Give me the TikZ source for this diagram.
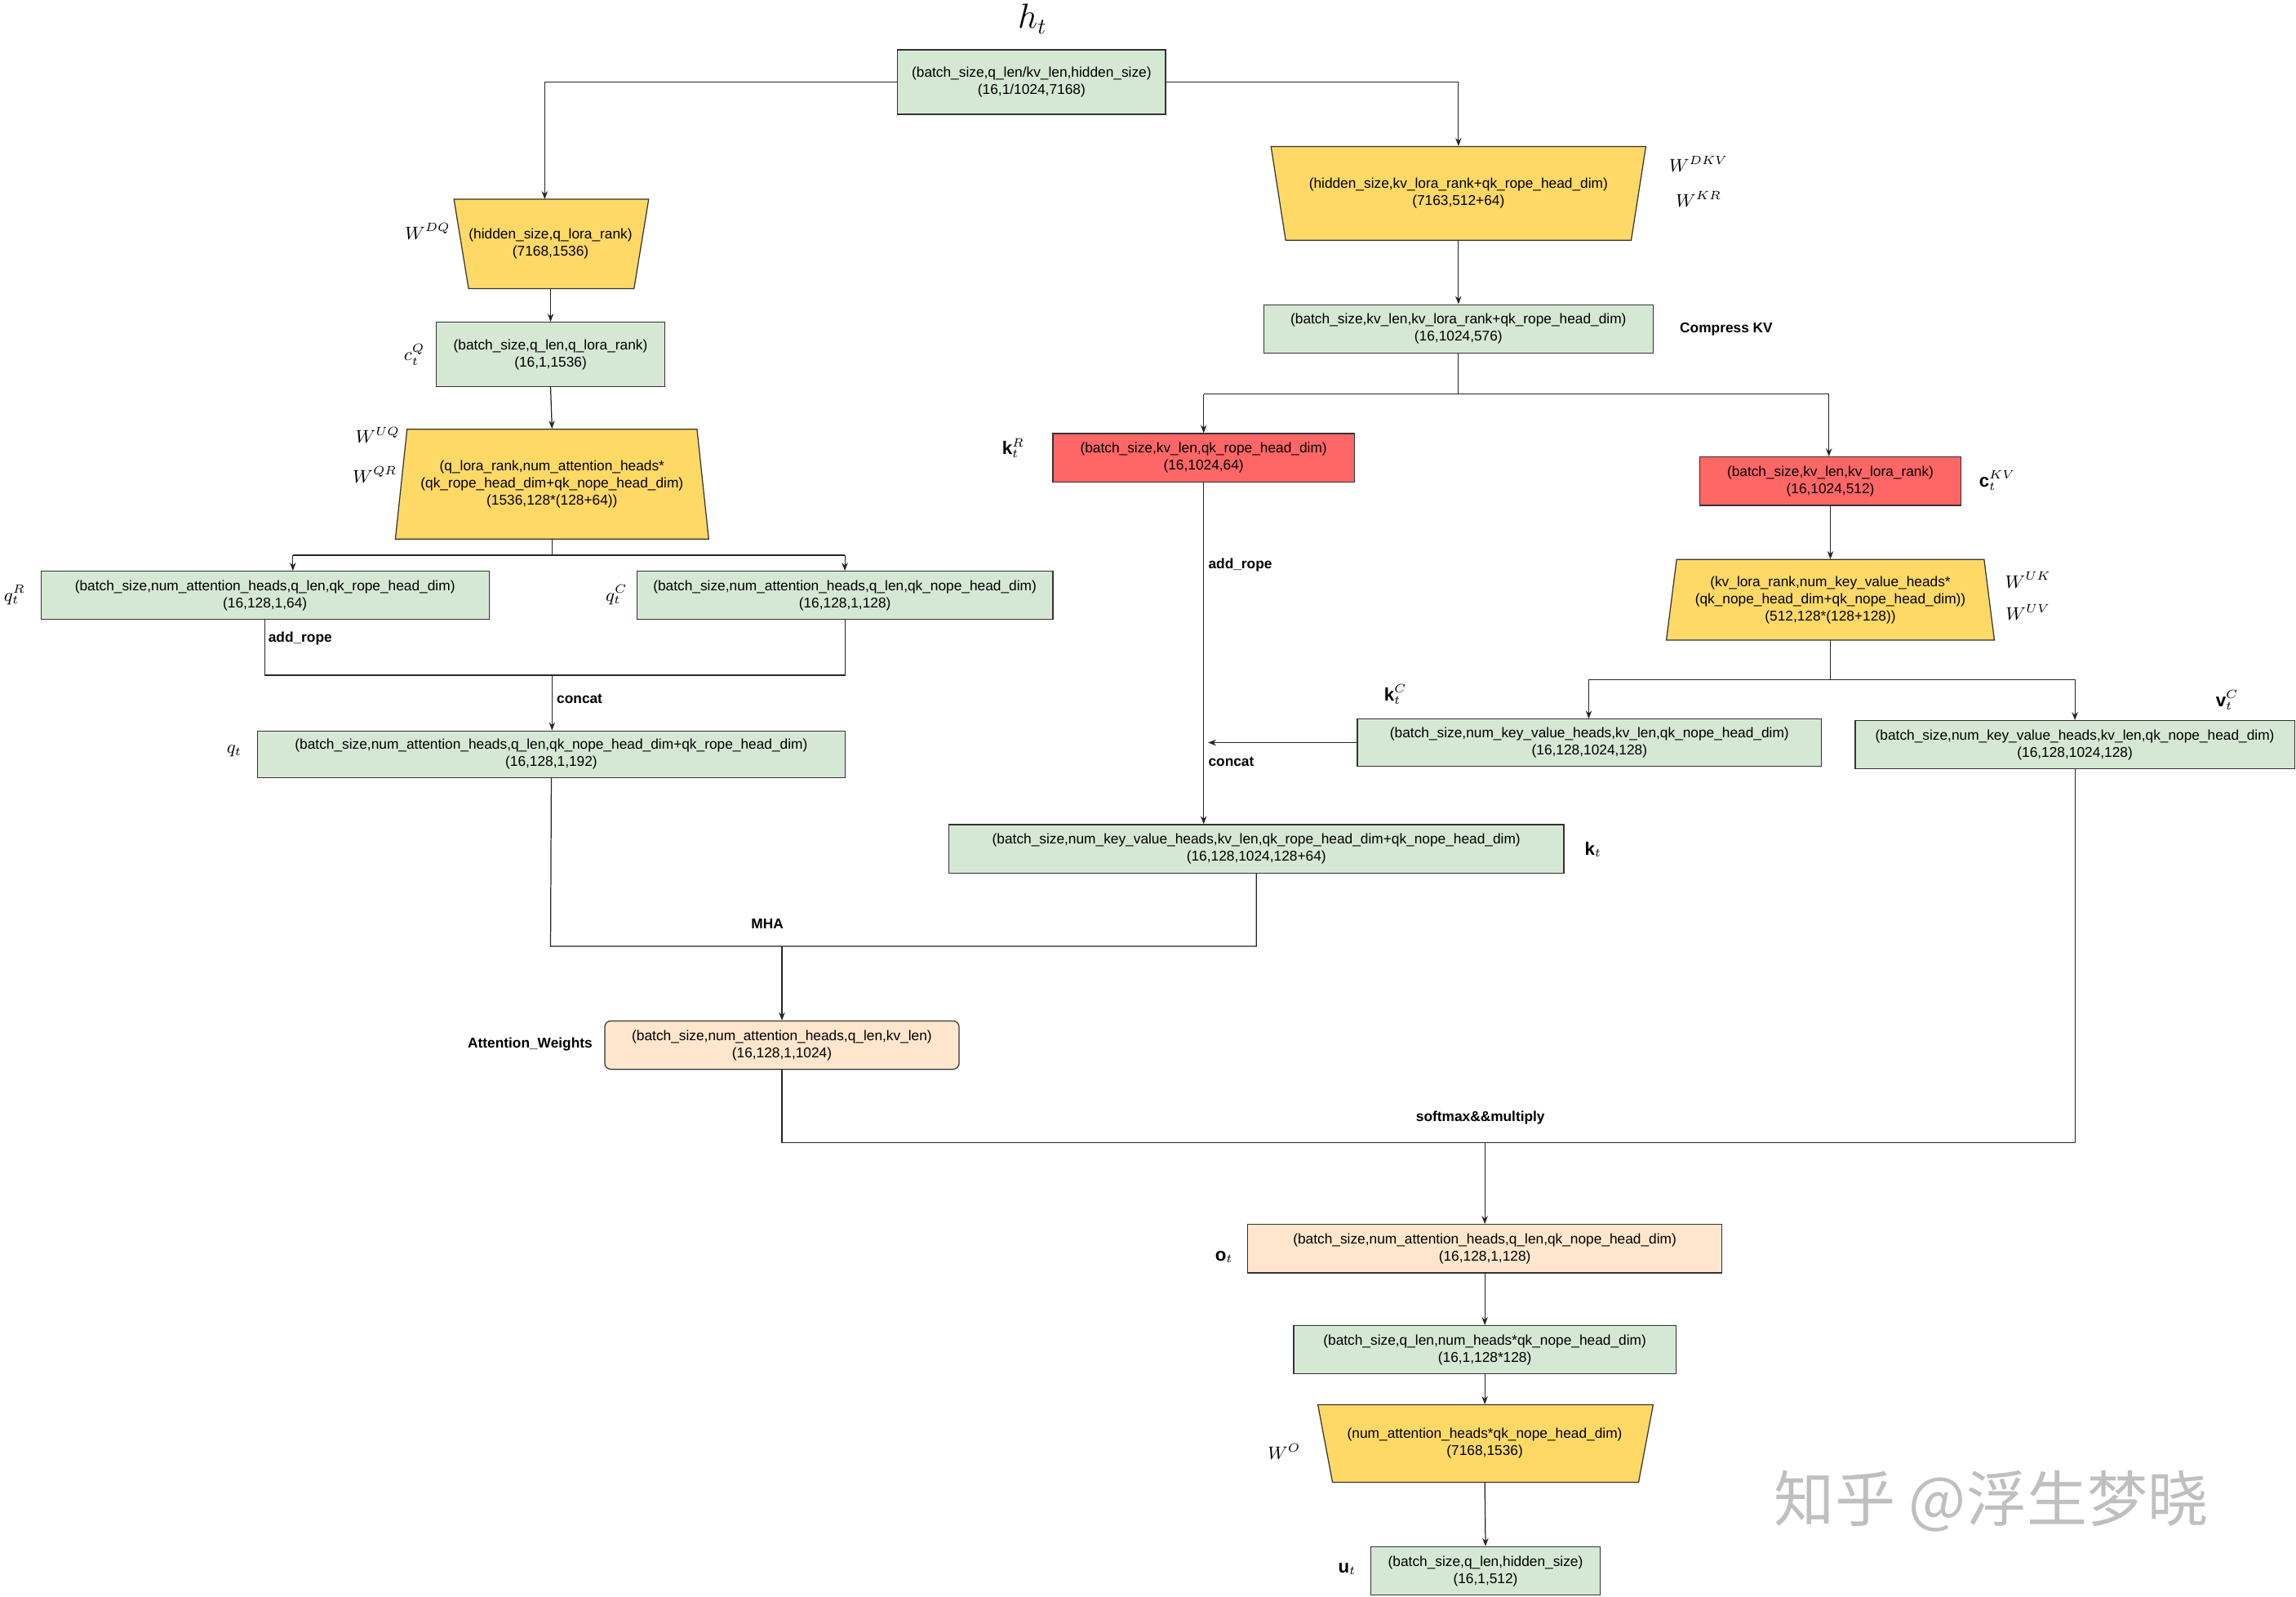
\documentclass[tikz,border=0pt]{standalone}
\usepackage{fontspec}
\setmainfont{Liberation Sans}
\newfontfamily\cjk{Noto Sans CJK SC}
\usetikzlibrary{arrows.meta}
\definecolor{gfill}{HTML}{D5E8D4}
\definecolor{yfill}{HTML}{FFD966}
\definecolor{rfill}{HTML}{FF6666}
\definecolor{pfill}{HTML}{FFE6CC}
\begin{document}
\begin{tikzpicture}[x=0.0255cm,y=-0.0255cm,
  every node/.style={font=\fontsize{7}{8.5}\selectfont,align=center,inner sep=0pt},
  gbox/.style={draw=black!80,fill=gfill,line width=0.5pt},
  rbox/.style={draw=black!80,fill=rfill,line width=0.5pt},
  pbox/.style={draw=black!80,fill=pfill,line width=0.5pt},
  trap/.style={draw=black!80,fill=yfill,line width=0.5pt},
  ln/.style={line width=0.5pt,black!85},
  arr/.style={ln,-{Stealth[length=4pt,width=3pt]}},
  lab/.style={font=\fontsize{7}{8.5}\selectfont\bfseries},
  ml/.style={font=\fontsize{9}{10}\selectfont}]
\fill[white] (0,0) rectangle (1568,1090);
\useasboundingbox (0,0) rectangle (1568,1090);
\node[gbox,minimum width=183*0.0255cm,minimum height=44*0.0255cm] (ht) at (704.5,56) {(batch\_size,q\_len/kv\_len,hidden\_size)\\(16,1/1024,7168)};
\node[font=\fontsize{16}{18}\selectfont] (htl) at (705,13) {$h_t$};
\draw[trap] (868,100)--(1124,100)--(1114,164)--(878,164)--cycle;
\node[minimum width=240*0.0255cm,minimum height=64*0.0255cm] (wdkv) at (996,132) {(hidden\_size,kv\_lora\_rank+qk\_rope\_head\_dim)\\(7163,512+64)};
\draw[trap] (310,136)--(443,136)--(433,197)--(320,197)--cycle;
\node[minimum width=110*0.0255cm,minimum height=61*0.0255cm] (wdq) at (376,166.5) {(hidden\_size,q\_lora\_rank)\\(7168,1536)};
\node[gbox,minimum width=156*0.0255cm,minimum height=44*0.0255cm] (cq) at (376,242) {(batch\_size,q\_len,q\_lora\_rank)\\(16,1,1536)};
\draw[trap] (278,293)--(476,293)--(484,368)--(270,368)--cycle;
\node[minimum width=200*0.0255cm,minimum height=75*0.0255cm] (wuq) at (377,330.5) {(q\_lora\_rank,num\_attention\_heads*\\(qk\_rope\_head\_dim+qk\_nope\_head\_dim)\\(1536,128*(128+64))};
\node[gbox,minimum width=306*0.0255cm,minimum height=33*0.0255cm] (qr) at (181,406.5) {(batch\_size,num\_attention\_heads,q\_len,qk\_rope\_head\_dim)\\(16,128,1,64)};
\node[gbox,minimum width=284*0.0255cm,minimum height=33*0.0255cm] (qc) at (577,406.5) {(batch\_size,num\_attention\_heads,q\_len,qk\_nope\_head\_dim)\\(16,128,1,128)};
\node[gbox,minimum width=401*0.0255cm,minimum height=32*0.0255cm] (qt) at (376.5,515) {(batch\_size,num\_attention\_heads,q\_len,qk\_nope\_head\_dim+qk\_rope\_head\_dim)\\(16,128,1,192)};
\node[gbox,minimum width=266*0.0255cm,minimum height=33*0.0255cm] (ckv0) at (996,224.5) {(batch\_size,kv\_len,kv\_lora\_rank+qk\_rope\_head\_dim)\\(16,1024,576)};
\node[rbox,minimum width=206*0.0255cm,minimum height=33*0.0255cm] (kr) at (822,312.5) {(batch\_size,kv\_len,qk\_rope\_head\_dim)\\(16,1024,64)};
\node[rbox,minimum width=178*0.0255cm,minimum height=33*0.0255cm] (ckv) at (1250,328.5) {(batch\_size,kv\_len,kv\_lora\_rank)\\(16,1024,512)};
\draw[trap] (1145,382)--(1355,382)--(1362,437)--(1138,437)--cycle;
\node[minimum width=210*0.0255cm,minimum height=55*0.0255cm] (wuk) at (1250,409.5) {(kv\_lora\_rank,num\_key\_value\_heads*\\(qk\_nope\_head\_dim+qk\_nope\_head\_dim))\\(512,128*(128+128))};
\node[gbox,minimum width=317*0.0255cm,minimum height=32*0.0255cm] (kc) at (1085.5,507) {(batch\_size,num\_key\_value\_heads,kv\_len,qk\_nope\_head\_dim)\\(16,128,1024,128)};
\node[gbox,minimum width=300*0.0255cm,minimum height=33*0.0255cm] (vc) at (1417,508.5) {(batch\_size,num\_key\_value\_heads,kv\_len,qk\_nope\_head\_dim)\\(16,128,1024,128)};
\node[gbox,minimum width=420*0.0255cm,minimum height=33*0.0255cm] (kt) at (858,579.5) {(batch\_size,num\_key\_value\_heads,kv\_len,qk\_rope\_head\_dim+qk\_nope\_head\_dim)\\(16,128,1024,128+64)};
\node[pbox,rounded corners=3pt,minimum width=242*0.0255cm,minimum height=33*0.0255cm] (aw) at (534,713.5) {(batch\_size,num\_attention\_heads,q\_len,kv\_len)\\(16,128,1,1024)};
\node[pbox,minimum width=324*0.0255cm,minimum height=33*0.0255cm] (ot) at (1014,852.5) {(batch\_size,num\_attention\_heads,q\_len,qk\_nope\_head\_dim)\\(16,128,1,128)};
\node[gbox,minimum width=261*0.0255cm,minimum height=33*0.0255cm] (om) at (1014,921.5) {(batch\_size,q\_len,num\_heads*qk\_nope\_head\_dim)\\(16,1,128*128)};
\draw[trap] (900,959)--(1129,959)--(1119,1012)--(910,1012)--cycle;
\node[minimum width=210*0.0255cm,minimum height=53*0.0255cm] (wo) at (1014,985.5) {(num\_attention\_heads*qk\_nope\_head\_dim)\\(7168,1536)};
\node[gbox,minimum width=157*0.0255cm,minimum height=33*0.0255cm] (ut) at (1014.5,1072.5) {(batch\_size,q\_len,hidden\_size)\\(16,1,512)};
\coordinate (j1) at (372,56);
\coordinate (j2) at (996,56);
\coordinate (q1) at (377,379);
\coordinate (q2) at (200,379);
\coordinate (q3) at (577,379);
\coordinate (c1) at (181,461);
\coordinate (c2) at (577,461);
\coordinate (c3) at (377,461);
\coordinate (k1) at (996,269);
\coordinate (k2) at (822,269);
\coordinate (k3) at (1249,269);
\coordinate (u1) at (1250,464);
\coordinate (u2) at (1085,464);
\coordinate (u3) at (1417,464);
\coordinate (cc) at (825,507);
\coordinate (m1) at (376,646);
\coordinate (m2) at (858,646);
\coordinate (m3) at (534,646);
\coordinate (s1) at (534,780);
\coordinate (s2) at (1417,780);
\coordinate (s3) at (1014,780);
\draw[arr] (ht.west) -- (j1) -- (372,136);
\draw[arr] (ht.east) -- (j2) -- (wdkv.north);
\draw[arr] (wdq.south) -- (cq.north);
\draw[arr] (cq.south) -- (wuq.north);
\draw[ln] (wuq.south) -- (q1);
\draw[ln] (q2) -- (q3);
\draw[arr] (q2) -- (qr.north -| q2);
\draw[arr] (q3) -- (qc.north);
\draw[ln] (qr.south) -- (c1) -- (c2) -- (qc.south);
\draw[arr] (c3) -- (qt.north -| c3);
\draw[arr] (wdkv.south) -- (ckv0.north);
\draw[ln] (ckv0.south) -- (k1);
\draw[ln] (k2) -- (k3);
\draw[arr] (k2) -- (kr.north);
\draw[arr] (k3) -- (ckv.north -| k3);
\draw[arr] (ckv.south) -- (wuk.north);
\draw[ln] (wuk.south) -- (u1);
\draw[ln] (u2) -- (u3);
\draw[arr] (u2) -- (kc.north -| u2);
\draw[arr] (u3) -- (vc.north);
\draw[arr] (kr.south) -- (kt.north -| kr.south);
\draw[arr] (kc.west) -- (cc);
\draw[ln] (qt.south) -- (m1) -- (m2) -- (kt.south);
\draw[arr] (m3) -- (aw.north);
\draw[ln] (aw.south) -- (s1) -- (s2) -- (vc.south);
\draw[arr] (s3) -- (ot.north);
\draw[arr] (ot.south) -- (om.north);
\draw[arr] (om.south) -- (wo.north);
\draw[arr] (wo.south) -- (ut.north);
\node[lab,anchor=west] (l1) at (183,436) {add\_rope};
\node[lab,anchor=west] (l2) at (380,477) {concat};
\node[lab,anchor=west] (l3) at (825,386) {add\_rope};
\node[lab,anchor=west] (l4) at (825,520) {concat};
\node[lab] (l5) at (524,631) {MHA};
\node[lab] (l6) at (1011,763) {softmax\&\&multiply};
\node[lab] (l7) at (362,713) {Attention\_Weights};
\node[lab,anchor=west] (l8) at (1147,225) {Compress KV};
\node[ml] (m01) at (1160,112) {$W^{DKV}$};
\node[ml] (m02) at (1160,136) {$W^{KR}$};
\node[ml] (m03) at (292,158) {$W^{DQ}$};
\node[ml] (m04) at (283,242) {$c_t^{Q}$};
\node[ml] (m05) at (258,297) {$W^{UQ}$};
\node[ml] (m06) at (256,324) {$W^{QR}$};
\node[ml] (m07) at (10,406) {$q_t^{R}$};
\node[ml] (m08) at (421,406) {$q_t^{C}$};
\node[ml] (m09) at (160,513) {$q_t$};
\node[ml] (m10) at (692,306) {$\mathbf{k}_t^{R}$};
\node[ml] (m11) at (1364,328) {$\mathbf{c}_t^{KV}$};
\node[ml] (m12) at (1385,396) {$W^{UK}$};
\node[ml] (m13) at (1385,418) {$W^{UV}$};
\node[ml] (m14) at (953,474) {$\mathbf{k}_t^{C}$};
\node[ml] (m15) at (1521,478) {$\mathbf{v}_t^{C}$};
\node[ml] (m16) at (1088,580) {$\mathbf{k}_t$};
\node[ml] (m17) at (836,858) {$\mathbf{o}_t$};
\node[ml] (m18) at (877,991) {$W^{O}$};
\node[ml] (m19) at (920,1071) {$\mathbf{u}_t$};
\node[font=\cjk\fontsize{30}{32}\selectfont,text=black!25] (wm) at (1360,1025) {知乎 @浮生梦晓};
\end{tikzpicture}
\end{document}
